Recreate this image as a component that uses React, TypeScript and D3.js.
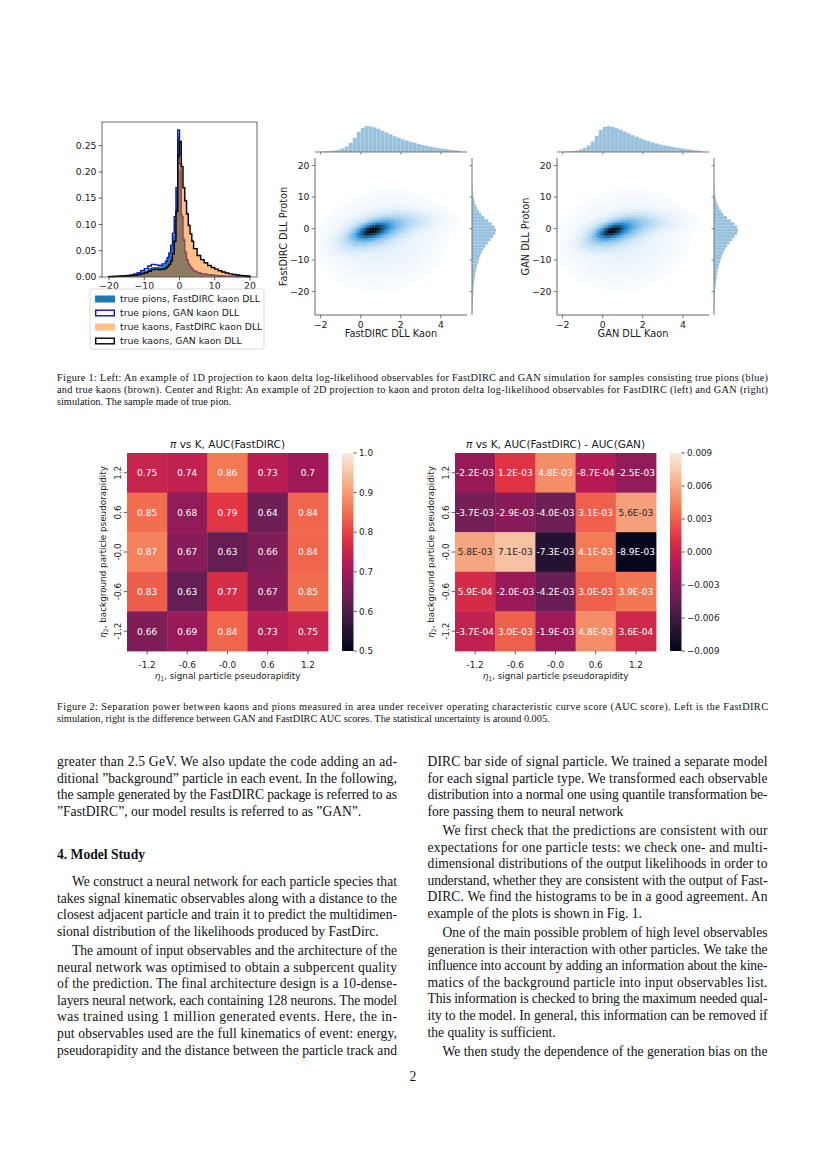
import React, { useMemo } from "react";
import * as d3 from "d3";

const SERIF = "'Liberation Serif', 'Times New Roman', Times, serif";
const SANS = "'DejaVu Sans', Verdana, sans-serif";
const INK = "#1a1a1a";

// ---------------- Figure 1 left: 1D histograms ----------------
const histEdges = [-20, -19, -18, -17, -16, -15, -14, -13, -12, -11, -10, -9, -8, -7, -6, -5, -4, -3.5, -3, -2.5, -2, -1.5, -1, -0.5, 0, 0.5, 1, 1.5, 2, 2.5, 3, 3.5, 4, 5, 6, 7, 8, 9, 10, 11, 12, 13, 14, 15, 16, 17, 18, 19, 20];
const pionFastDirc = [0.001, 0.001, 0.0015, 0.002, 0.002, 0.003, 0.004, 0.005, 0.007, 0.01, 0.013, 0.017, 0.019, 0.019, 0.02, 0.024, 0.03, 0.036, 0.045, 0.058, 0.08, 0.11, 0.165, 0.268, 0.205, 0.12, 0.075, 0.05, 0.035, 0.026, 0.02, 0.016, 0.012, 0.009, 0.007, 0.006, 0.005, 0.004, 0.003, 0.0025, 0.002, 0.0018, 0.0015, 0.0012, 0.001, 0.001, 0.0008, 0.0006];
const pionGan = [0.001, 0.0012, 0.0015, 0.002, 0.0025, 0.003, 0.004, 0.006, 0.008, 0.012, 0.016, 0.021, 0.024, 0.023, 0.022, 0.025, 0.03, 0.037, 0.046, 0.06, 0.083, 0.115, 0.17, 0.28, 0.215, 0.115, 0.07, 0.046, 0.032, 0.024, 0.019, 0.015, 0.011, 0.008, 0.0065, 0.0055, 0.0045, 0.0038, 0.003, 0.0025, 0.002, 0.0017, 0.0014, 0.0012, 0.001, 0.0008, 0.0007, 0.0005];
const kaonFastDirc = [0.0008, 0.001, 0.001, 0.0012, 0.0015, 0.002, 0.0025, 0.003, 0.004, 0.005, 0.007, 0.01, 0.013, 0.013, 0.012, 0.013, 0.016, 0.019, 0.023, 0.03, 0.042, 0.065, 0.12, 0.225, 0.255, 0.215, 0.175, 0.15, 0.125, 0.102, 0.085, 0.07, 0.055, 0.042, 0.034, 0.028, 0.023, 0.019, 0.015, 0.012, 0.01, 0.008, 0.006, 0.005, 0.004, 0.003, 0.0025, 0.002];
const kaonGan = [0.0008, 0.001, 0.0012, 0.0014, 0.0017, 0.002, 0.0028, 0.0035, 0.0045, 0.006, 0.008, 0.011, 0.014, 0.015, 0.014, 0.015, 0.017, 0.02, 0.024, 0.031, 0.044, 0.068, 0.125, 0.232, 0.258, 0.21, 0.17, 0.145, 0.12, 0.098, 0.082, 0.068, 0.054, 0.041, 0.033, 0.027, 0.022, 0.018, 0.015, 0.012, 0.0095, 0.0075, 0.006, 0.0048, 0.0038, 0.003, 0.0024, 0.0018];
const histXDomain = [-22, 22];
const histYDomain = [0, 0.295];
const histXTicks = [-20, -10, 0, 10, 20];
const histYTicks = [0, 0.05, 0.1, 0.15, 0.2, 0.25];
const legendLabels = [
  "true pions, FastDIRC kaon DLL",
  "true pions, GAN kaon DLL",
  "true kaons, FastDIRC kaon DLL",
  "true kaons, GAN kaon DLL",
];

// ---------------- Figure 1 centre/right: joint plots ----------------
const jointXDomain = [-2.28, 5.3];
const jointYDomain = [-27.4, 22.4];
const jointXTicks = [-2, 0, 2, 4];
const jointYTicks = [-20, -10, 0, 10, 20];
const topMarginStart = -2;
const topMarginWidth = 0.2;
const rightMarginStart = -26;
const rightMarginWidth = 1;
const fastDircKaonMarginal = [0.02, 0.03, 0.04, 0.06, 0.09, 0.14, 0.22, 0.35, 0.55, 0.78, 0.93, 1.0, 0.99, 0.95, 0.89, 0.82, 0.75, 0.68, 0.61, 0.55, 0.49, 0.44, 0.39, 0.35, 0.31, 0.27, 0.24, 0.21, 0.18, 0.15, 0.13, 0.11, 0.09, 0.07, 0.05];
const ganKaonMarginal = [0.02, 0.03, 0.04, 0.06, 0.1, 0.16, 0.25, 0.4, 0.62, 0.85, 0.97, 1.0, 0.97, 0.92, 0.86, 0.79, 0.72, 0.65, 0.59, 0.53, 0.47, 0.42, 0.37, 0.33, 0.29, 0.26, 0.23, 0.2, 0.17, 0.15, 0.12, 0.1, 0.08, 0.06, 0.04];
const fastDircProtonMarginal = [0.02, 0.02, 0.03, 0.03, 0.04, 0.05, 0.06, 0.07, 0.08, 0.1, 0.12, 0.14, 0.16, 0.19, 0.22, 0.26, 0.3, 0.35, 0.41, 0.48, 0.56, 0.66, 0.77, 0.88, 0.97, 1.0, 0.95, 0.83, 0.68, 0.52, 0.39, 0.29, 0.21, 0.15, 0.11, 0.08, 0.05, 0.03, 0.02, 0.01];
const ganProtonMarginal = [0.01, 0.02, 0.02, 0.03, 0.04, 0.04, 0.05, 0.06, 0.08, 0.09, 0.11, 0.13, 0.15, 0.18, 0.21, 0.25, 0.29, 0.34, 0.4, 0.47, 0.55, 0.65, 0.76, 0.87, 0.96, 1.0, 0.96, 0.85, 0.7, 0.54, 0.4, 0.3, 0.22, 0.16, 0.11, 0.08, 0.05, 0.03, 0.02, 0.01];
// density blobs (centre, spread, correlation, weight)
const fastDircDensity = [
  { x: 0.55, y: -0.7, sx: 0.5, sy: 1.6, rho: 0.5, w: 1.0 },
  { x: 0.75, y: -1.0, sx: 1.0, sy: 3.2, rho: 0.55, w: 0.5 },
  { x: 2.2, y: 1.8, sx: 1.3, sy: 1.9, rho: 0.25, w: 0.11 },
  { x: 1.1, y: -3.5, sx: 1.8, sy: 9, rho: 0.1, w: 0.1 },
];
const ganDensity = [
  { x: 0.45, y: -0.8, sx: 0.45, sy: 1.5, rho: 0.5, w: 1.0 },
  { x: 0.7, y: -1.0, sx: 0.95, sy: 3.1, rho: 0.55, w: 0.52 },
  { x: 2.1, y: 1.6, sx: 1.3, sy: 1.9, rho: 0.25, w: 0.11 },
  { x: 1.1, y: -3.5, sx: 1.8, sy: 9, rho: 0.1, w: 0.1 },
];
const hexDataX = [-2.1, 5.1];
const hexDataY = [-26, 14];

// ---------------- Figure 2: heatmaps ----------------
const etaColLabels = ["-1.2", "-0.6", "-0.0", "0.6", "1.2"];
const etaRowLabels = ["1.2", "0.6", "-0.0", "-0.6", "-1.2"];
const aucFastDirc = [
  [0.75, 0.74, 0.86, 0.73, 0.7],
  [0.85, 0.68, 0.79, 0.64, 0.84],
  [0.87, 0.67, 0.63, 0.66, 0.84],
  [0.83, 0.63, 0.77, 0.67, 0.85],
  [0.66, 0.69, 0.84, 0.73, 0.75],
];
const aucDiff = [
  [-0.0022, 0.0012, 0.0048, -0.00087, -0.0025],
  [-0.0037, -0.0029, -0.004, 0.0031, 0.0056],
  [0.0058, 0.0071, -0.0073, 0.0041, -0.0089],
  [0.00059, -0.002, -0.0042, 0.003, 0.0039],
  [-0.00037, 0.003, -0.0019, 0.0048, 0.00036],
];
const aucTicks = [0.5, 0.6, 0.7, 0.8, 0.9, 1.0];
const diffTicks = [-0.009, -0.006, -0.003, 0, 0.003, 0.006, 0.009];

// rocket colormap control colours
const rocketStops = [0, 1 / 7, 2 / 7, 3 / 7, 4 / 7, 5 / 7, 6 / 7, 1];
const rocketColors = ["#03051a", "#35193e", "#701f57", "#ad1759", "#e13342", "#f37651", "#f6b48f", "#faebdd"];
const rocket = d3.scaleLinear<string>().domain(rocketStops).range(rocketColors).interpolate(d3.interpolateRgb).clamp(true);

// ---------------- Text ----------------
const fig1Caption = [
  { t: "Figure 1: Left: An example of 1D projection to kaon delta log-likelihood observables for FastDIRC and GAN simulation for samples consisting true pions (blue)", j: true },
  { t: "and true kaons (brown). Center and Right: An example of 2D projection to kaon and proton delta log-likelihood observables for FastDIRC (left) and GAN (right)", j: true },
  { t: "simulation. The sample made of true pion.", j: false },
];
const fig2Caption = [
  { t: "Figure 2: Separation power between kaons and pions measured in area under receiver operating characteristic curve score (AUC score). Left is the FastDIRC", j: true },
  { t: "simulation, right is the difference between GAN and FastDIRC AUC scores. The statistical uncertainty is around 0.005.", j: false },
];
type Line = { t: string; j?: boolean; ind?: boolean; gap?: boolean };
const leftColumnTop: Line[] = [
  { t: "greater than 2.5 GeV. We also update the code adding an ad-", j: true },
  { t: "ditional \u201dbackground\u201d particle in each event. In the following,", j: true },
  { t: "the sample generated by the FastDIRC package is referred to as", j: true },
  { t: "\u201dFastDIRC\u201d, our model results is referred to as \u201dGAN\u201d." },
];
const sectionHeading = "4. Model Study";
const leftColumnBottom: Line[] = [
  { t: "We construct a neural network for each particle species that", j: true, ind: true },
  { t: "takes signal kinematic observables along with a distance to the", j: true },
  { t: "closest adjacent particle and train it to predict the multidimen-", j: true },
  { t: "sional distribution of the likelihoods produced by FastDirc." },
  { t: "The amount of input observables and the architecture of the", j: true, ind: true, gap: true },
  { t: "neural network was optimised to obtain a subpercent quality", j: true },
  { t: "of the prediction. The final architecture design is a 10-dense-", j: true },
  { t: "layers neural network, each containing 128 neurons. The model", j: true },
  { t: "was trained using 1 million generated events. Here, the in-", j: true },
  { t: "put observables used are the full kinematics of event: energy,", j: true },
  { t: "pseudorapidity and the distance between the particle track and", j: true },
];
const rightColumn: Line[] = [
  { t: "DIRC bar side of signal particle. We trained a separate model", j: true },
  { t: "for each signal particle type. We transformed each observable", j: true },
  { t: "distribution into a normal one using quantile transformation be-", j: true },
  { t: "fore passing them to neural network" },
  { t: "We first check that the predictions are consistent with our", j: true, ind: true, gap: true },
  { t: "expectations for one particle tests: we check one- and multi-", j: true },
  { t: "dimensional distributions of the output likelihoods in order to", j: true },
  { t: "understand, whether they are consistent with the output of Fast-", j: true },
  { t: "DIRC. We find the histograms to be in a good agreement. An", j: true },
  { t: "example of the plots is shown in Fig. 1." },
  { t: "One of the main possible problem of high level observables", j: true, ind: true, gap: true },
  { t: "generation is their interaction with other particles. We take the", j: true },
  { t: "influence into account by adding an information about the kine-", j: true },
  { t: "matics of the background particle into input observables list.", j: true },
  { t: "This information is checked to bring the maximum needed qual-", j: true },
  { t: "ity to the model. In general, this information can be removed if", j: true },
  { t: "the quality is sufficient." },
  { t: "We then study the dependence of the generation bias on the", j: true, ind: true, gap: true },
];

// ---------------- helpers ----------------
function relLum(c: string) {
  const { r, g, b } = d3.rgb(c);
  const f = (v: number) => {
    v /= 255;
    return v <= 0.03928 ? v / 12.92 : Math.pow((v + 0.055) / 1.055, 2.4);
  };
  return 0.2126 * f(r) + 0.7152 * f(g) + 0.0722 * f(b);
}

function sciFmt(v: number) {
  const [m, e] = v.toExponential(1).split("e");
  const ei = +e;
  return m + "E" + (ei < 0 ? "-" : "+") + String(Math.abs(ei)).padStart(2, "0");
}

const hexR = 1.75;
const hexShape = (() => {
  const pts = d3.range(6).map((k) => {
    const a = (Math.PI / 180) * (60 * k - 90);
    return [(hexR + 0.15) * Math.cos(a), (hexR + 0.15) * Math.sin(a)];
  });
  return "M" + pts.map((p) => p[0].toFixed(2) + "," + p[1].toFixed(2)).join("L") + "Z";
})();

// ---------------- components ----------------
function Hist1D() {
  const x0 = 102, x1 = 257, y0 = 122, y1 = 277;
  const x = d3.scaleLinear().domain(histXDomain).range([x0, x1]);
  const y = d3.scaleLinear().domain(histYDomain).range([y1, y0]);
  const step = (vals: number[]) => {
    let p = `M${x(histEdges[0])},${y(0)}`;
    vals.forEach((v, i) => {
      p += `L${x(histEdges[i])},${y(v)}L${x(histEdges[i + 1])},${y(v)}`;
    });
    p += `L${x(histEdges[histEdges.length - 1])},${y(0)}`;
    return p;
  };
  const fmtX = d3.format("");
  const rows = [299, 313, 327, 341];
  return (
    <g fontFamily={SANS} fontSize={9.3} fill={INK}>
      <path d={step(pionFastDirc) + "Z"} fill="#1f77b4" />
      <path d={step(pionGan)} fill="none" stroke="#1212b0" strokeWidth={1.4} />
      <path d={step(kaonFastDirc) + "Z"} fill="#ff7f0e" fillOpacity={0.5} />
      <path d={step(kaonGan)} fill="none" stroke="#000" strokeWidth={1.4} />
      <rect x={x0} y={y0} width={x1 - x0} height={y1 - y0} fill="none" stroke="#444" strokeWidth={0.8} />
      {histXTicks.map((t) => (
        <g key={t}>
          <line x1={x(t)} x2={x(t)} y1={y1} y2={y1 + 3.3} stroke="#333" strokeWidth={0.8} />
          <text x={x(t)} y={y1 + 12} textAnchor="middle">{fmtX(t)}</text>
        </g>
      ))}
      {histYTicks.map((t) => (
        <g key={t}>
          <line x1={x0 - 3.3} x2={x0} y1={y(t)} y2={y(t)} stroke="#333" strokeWidth={0.8} />
          <text x={x0 - 5.5} y={y(t) + 3.3} textAnchor="end">{t.toFixed(2)}</text>
        </g>
      ))}
      <rect x={90} y={289} width={174} height={60} rx={2} fill="#fff" stroke="#d0d0d0" strokeWidth={0.8} />
      {legendLabels.map((lab, i) => (
        <g key={lab}>
          {i === 0 && <rect x={95} y={rows[i] - 3.5} width={20} height={7} fill="#1f77b4" />}
          {i === 1 && <rect x={95.7} y={rows[i] - 2.8} width={18.6} height={5.6} fill="none" stroke="#1212b0" strokeWidth={1.4} />}
          {i === 2 && <rect x={95} y={rows[i] - 3.5} width={20} height={7} fill="#ff7f0e" fillOpacity={0.5} />}
          {i === 3 && <rect x={95.7} y={rows[i] - 2.8} width={18.6} height={5.6} fill="none" stroke="#000" strokeWidth={1.4} />}
          <text x={120} y={rows[i] + 3.3}>{lab}</text>
        </g>
      ))}
    </g>
  );
}

type Comp = { x: number; y: number; sx: number; sy: number; rho: number; w: number };

function JointPlot({ left, comps, topVals, rightVals, xLabel, yLabel }: { left: number; comps: Comp[]; topVals: number[]; rightVals: number[]; xLabel: string; yLabel: string }) {
  const mainW = 152, top = 158, bottom = 315;
  const mTop = 125, mBottom = 152;
  const rx0 = left + mainW + 5, rW = 25;
  const x = d3.scaleLinear().domain(jointXDomain).range([left, left + mainW]);
  const y = d3.scaleLinear().domain(jointYDomain).range([bottom, top]);
  const hexes = useMemo(() => {
    const dx = Math.sqrt(3) * hexR, dy = 1.5 * hexR;
    const dens = (px: number, py: number) => {
      const vx = x.invert(px), vy = y.invert(py);
      let s = 0;
      for (const c of comps) {
        const a = (vx - c.x) / c.sx, b = (vy - c.y) / c.sy;
        const q = (a * a - 2 * c.rho * a * b + b * b) / (1 - c.rho * c.rho);
        s += c.w * Math.exp(-0.5 * q);
      }
      return s;
    };
    const cells: { px: number; py: number; d: number }[] = [];
    let row = 0;
    for (let py = y(hexDataY[1]); py <= y(hexDataY[0]); py += dy, row++) {
      for (let px = x(hexDataX[0]) + (row % 2 ? dx / 2 : 0); px <= x(hexDataX[1]); px += dx) {
        cells.push({ px, py, d: dens(px, py) });
      }
    }
    const maxD = d3.max(cells, (c) => c.d) || 1;
    return cells.map((c) => ({ ...c, t: c.d / maxD })).filter((c) => c.t > 0.012);
  }, [left, comps]);
  const topX = (i: number) => x(topMarginStart + i * topMarginWidth);
  const topY = d3.scaleLinear().domain([0, (d3.max(topVals) || 1) * 1.04]).range([mBottom, mTop]);
  const rightEdge = (i: number) => y(rightMarginStart + i * rightMarginWidth);
  const rightX = d3.scaleLinear().domain([0, (d3.max(rightVals) || 1) * 1.04]).range([rx0, rx0 + rW]);
  const clipId = `clip-${left}`;
  const spine = "#555";
  return (
    <g fontFamily={SANS} fontSize={9.3} fill={INK}>
      <clipPath id={clipId}>
        <rect x={left} y={top} width={mainW} height={bottom - top} />
      </clipPath>
      <g clipPath={`url(#${clipId})`}>
        {hexes.map((h, i) => {
          const col = d3.hsl(205, 0.71, 1 - h.t).toString();
          return <path key={i} d={hexShape} transform={`translate(${h.px.toFixed(2)},${h.py.toFixed(2)})`} fill={col} />;
        })}
      </g>
      {/* top marginal */}
      {topVals.map((v, i) => (
        <rect key={i} x={topX(i)} y={topY(v)} width={topX(i + 1) - topX(i)} height={mBottom - topY(v)} fill="#1f77b4" fillOpacity={0.45} stroke="#fff" strokeOpacity={0.5} strokeWidth={0.2} />
      ))}
      <line x1={left} x2={left + mainW} y1={mBottom} y2={mBottom} stroke={spine} strokeWidth={0.8} />
      {jointXTicks.map((t) => (
        <line key={t} x1={x(t)} x2={x(t)} y1={mBottom} y2={mBottom + 2.5} stroke={spine} strokeWidth={0.7} />
      ))}
      {/* right marginal */}
      {rightVals.map((v, i) => (
        <rect key={i} x={rx0} y={rightEdge(i + 1)} width={rightX(v) - rx0} height={rightEdge(i) - rightEdge(i + 1)} fill="#1f77b4" fillOpacity={0.45} stroke="#fff" strokeOpacity={0.5} strokeWidth={0.2} />
      ))}
      <line x1={rx0} x2={rx0} y1={top} y2={bottom} stroke={spine} strokeWidth={0.8} />
      {jointYTicks.map((t) => (
        <line key={t} x1={rx0 - 2.5} x2={rx0} y1={y(t)} y2={y(t)} stroke={spine} strokeWidth={0.7} />
      ))}
      {/* main spines */}
      <line x1={left} x2={left} y1={top} y2={bottom} stroke={spine} strokeWidth={0.9} />
      <line x1={left} x2={left + mainW} y1={bottom} y2={bottom} stroke={spine} strokeWidth={0.9} />
      {jointXTicks.map((t) => (
        <g key={t}>
          <line x1={x(t)} x2={x(t)} y1={bottom} y2={bottom + 3.3} stroke={spine} strokeWidth={0.8} />
          <text x={x(t)} y={bottom + 12.5} textAnchor="middle">{d3.format("")(t)}</text>
        </g>
      ))}
      {jointYTicks.map((t) => (
        <g key={t}>
          <line x1={left - 3.3} x2={left} y1={y(t)} y2={y(t)} stroke={spine} strokeWidth={0.8} />
          <text x={left - 5.5} y={y(t) + 3.3} textAnchor="end">{d3.format("")(t)}</text>
        </g>
      ))}
      <text x={left + mainW / 2} y={336.5} textAnchor="middle" fontSize={9.8}>{xLabel}</text>
      <text transform={`translate(${left - 28.5},${(top + bottom) / 2}) rotate(-90)`} textAnchor="middle" fontSize={9.8}>{yLabel}</text>
    </g>
  );
}

function EtaLabel({ idx, rest }: { idx: string; rest: string }) {
  return (
    <>
      <tspan fontStyle="italic">η</tspan>
      <tspan fontSize="70%" dy={2}>{idx}</tspan>
      <tspan dy={-2}>{rest}</tspan>
    </>
  );
}

function Heatmap({ x0, values, vmin, vmax, fmt, title, ticks, tickFmt, id }: { x0: number; values: number[][]; vmin: number; vmax: number; fmt: (v: number) => string; title: React.ReactNode; ticks: number[]; tickFmt: (v: number) => string; id: string }) {
  const y0 = 453, gw = 201, gh = 198;
  const xb = d3.scaleBand().domain(etaColLabels).range([x0, x0 + gw]);
  const yb = d3.scaleBand().domain(etaRowLabels).range([y0, y0 + gh]);
  const norm = d3.scaleLinear().domain([vmin, vmax]).range([0, 1]);
  const color = (v: number) => rocket(norm(v));
  const cbX = x0 + gw + 14, cbW = 11.5;
  const cbY = d3.scaleLinear().domain([vmin, vmax]).range([y0 + gh, y0]);
  const stops = d3.range(0, 1.0001, 0.05);
  return (
    <g fontFamily={SANS} fill={INK}>
      <defs>
        <linearGradient id={id} x1="0" y1="1" x2="0" y2="0">
          {stops.map((s) => (
            <stop key={s} offset={s} stopColor={rocket(s)} />
          ))}
        </linearGradient>
      </defs>
      {values.map((row, ri) =>
        row.map((v, ci) => {
          const c = color(v);
          const tc = relLum(c) > 0.408 ? "#262626" : "#ffffff";
          const cx = xb(etaColLabels[ci])!, cy = yb(etaRowLabels[ri])!;
          return (
            <g key={`${ri}-${ci}`}>
              <rect x={cx} y={cy} width={xb.bandwidth() + 0.4} height={yb.bandwidth() + 0.4} fill={c} />
              <text x={cx + xb.bandwidth() / 2} y={cy + yb.bandwidth() / 2 + 3.3} textAnchor="middle" fontSize={9} fill={tc}>{fmt(v)}</text>
            </g>
          );
        })
      )}
      <text x={x0 + gw / 2} y={447.5} textAnchor="middle" fontSize={10.5}>{title}</text>
      {etaColLabels.map((l) => {
        const cx = xb(l)! + xb.bandwidth() / 2;
        return (
          <g key={l}>
            <line x1={cx} x2={cx} y1={y0 + gh} y2={y0 + gh + 3.3} stroke="#333" strokeWidth={0.8} />
            <text x={cx} y={667.5} textAnchor="middle" fontSize={8.8}>{l}</text>
          </g>
        );
      })}
      {etaRowLabels.map((l) => {
        const cy = yb(l)! + yb.bandwidth() / 2;
        return (
          <g key={l}>
            <line x1={x0 - 3.3} x2={x0} y1={cy} y2={cy} stroke="#333" strokeWidth={0.8} />
            <text transform={`translate(${x0 - 5.8},${cy}) rotate(-90)`} textAnchor="middle" fontSize={8.8}>{l}</text>
          </g>
        );
      })}
      <text x={x0 + gw / 2} y={679} textAnchor="middle" fontSize={8.8}>
        <EtaLabel idx="1" rest=", signal particle pseudorapidity" />
      </text>
      <text transform={`translate(${x0 - 21},${y0 + gh / 2}) rotate(-90)`} textAnchor="middle" fontSize={8.8}>
        <EtaLabel idx="2" rest=", background particle pseudorapidity" />
      </text>
      <rect x={cbX} y={y0} width={cbW} height={gh} fill={`url(#${id})`} />
      {ticks.map((t) => (
        <g key={t}>
          <line x1={cbX + cbW} x2={cbX + cbW + 3.3} y1={cbY(t)} y2={cbY(t)} stroke="#333" strokeWidth={0.8} />
          <text x={cbX + cbW + 5.5} y={cbY(t) + 3.2} fontSize={8.8}>{tickFmt(t)}</text>
        </g>
      ))}
    </g>
  );
}

function Paragraphs({ lines, x, y, width, lead, gapH }: { lines: Line[]; x: number; y: number; width: number; lead: number; gapH: number }) {
  let gaps = 0;
  return (
    <g fontFamily={SERIF} fontSize={13.6} fill="#111">
      {lines.map((l, i) => {
        if (l.gap) gaps++;
        const ind = l.ind ? 15 : 0;
        const yy = y + i * lead + gaps * gapH;
        return (
          <text key={i} x={x + ind} y={yy} textLength={l.j ? width - ind : undefined} lengthAdjust="spacing">
            {l.t}
          </text>
        );
      })}
    </g>
  );
}

function Caption({ lines, y }: { lines: { t: string; j: boolean }[]; y: number }) {
  return (
    <g fontFamily={SERIF} fontSize={10.3} fill="#111">
      {lines.map((l, i) => (
        <text key={i} x={57} y={y + i * 12} textLength={l.j ? 711 : undefined} lengthAdjust="spacing">
          {l.t}
        </text>
      ))}
    </g>
  );
}

export default function App() {
  const fmt2g = d3.format(".2~g");
  return (
    <svg width={827} height={1169} viewBox="0 0 827 1169" style={{ position: "absolute", left: 0, top: 0, display: "block", background: "#fff" }}>
      <rect width={827} height={1169} fill="#fff" />
      <Hist1D />
      <JointPlot left={315} comps={fastDircDensity} topVals={fastDircKaonMarginal} rightVals={fastDircProtonMarginal} xLabel="FastDIRC DLL Kaon" yLabel="FastDIRC DLL Proton" />
      <JointPlot left={557} comps={ganDensity} topVals={ganKaonMarginal} rightVals={ganProtonMarginal} xLabel="GAN DLL Kaon" yLabel="GAN DLL Proton" />
      <Caption lines={fig1Caption} y={380.5} />
      <Heatmap
        id="cbLeft"
        x0={127}
        values={aucFastDirc}
        vmin={0.5}
        vmax={1.0}
        fmt={(v) => fmt2g(v)}
        title={<><tspan fontStyle="italic">π</tspan> vs K, AUC(FastDIRC)</>}
        ticks={aucTicks}
        tickFmt={d3.format(".1f")}
      />
      <Heatmap
        id="cbRight"
        x0={455}
        values={aucDiff}
        vmin={-0.009}
        vmax={0.009}
        fmt={sciFmt}
        title={<><tspan fontStyle="italic">π</tspan> vs K, AUC(FastDIRC) - AUC(GAN)</>}
        ticks={diffTicks}
        tickFmt={d3.format(".3f")}
      />
      <Caption lines={fig2Caption} y={709.5} />
      <Paragraphs lines={leftColumnTop} x={57} y={766} width={340} lead={16.6} gapH={2.5} />
      <text x={57} y={859} fontFamily={SERIF} fontSize={13.6} fontWeight="bold" fill="#111">{sectionHeading}</text>
      <Paragraphs lines={leftColumnBottom} x={57} y={886} width={340} lead={16.6} gapH={2.5} />
      <Paragraphs lines={rightColumn} x={427.5} y={766} width={340} lead={16.6} gapH={2.5} />
      <text x={413} y={1081} textAnchor="middle" fontFamily={SERIF} fontSize={13.6} fill="#111">2</text>
    </svg>
  );
}
